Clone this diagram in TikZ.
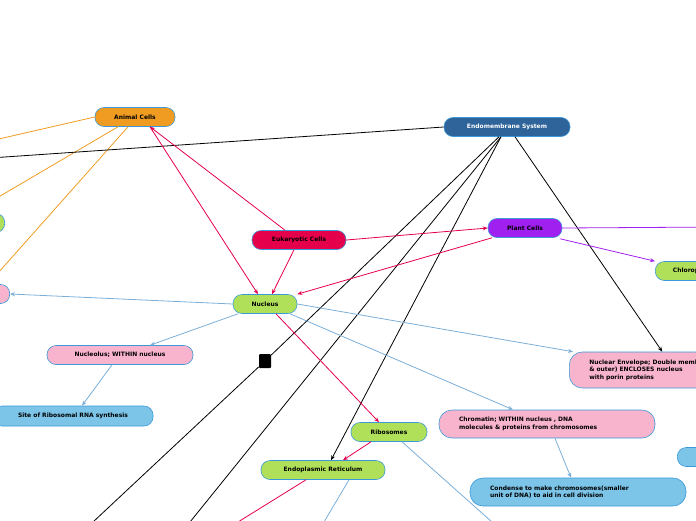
\documentclass[tikz,border=0pt]{standalone}
\usepackage{fontspec}
\setmainfont{DejaVu Sans}
\usetikzlibrary{arrows.meta}
\definecolor{bord}{HTML}{3A9AD9}
\definecolor{grn}{HTML}{B0E05A}
\definecolor{pnk}{HTML}{F8B4CC}
\definecolor{blu}{HTML}{7CC4E8}
\definecolor{org}{HTML}{F09C22}
\definecolor{red}{HTML}{E5004C}
\definecolor{prp}{HTML}{A020F0}
\definecolor{dblue}{HTML}{2E6499}
\definecolor{lblue}{HTML}{7BAFD8}
\begin{document}
\begin{tikzpicture}[x=1pt,y=-1pt,
 box/.style={draw=bord,line width=0.6pt,rounded corners=9pt,font=\bfseries\fontsize{6}{7.5}\selectfont,minimum height=19pt,inner sep=2pt,align=center},
 tbox/.style={box,align=left,rounded corners=13pt,inner xsep=20pt},
 a/.style={-{Stealth[length=5pt,width=4pt]},line width=0.8pt},
 n/.style={line width=0.8pt}]
\useasboundingbox (0,0) rectangle (696,520);
\clip (0,0) rectangle (696,520);
\node[box,fill=dblue,text=white,minimum width=126pt] (endo) at (507,127) {Endomembrane System};
\node[box,fill=org,minimum width=80pt] (animal) at (135,117) {Animal Cells};
\node[box,fill=red,minimum width=94pt] (euk) at (299,240) {Eukaryotic Cells};
\node[box,fill=prp,minimum width=74pt] (plant) at (525,228) {Plant Cells};
\node[box,fill=grn,minimum width=74pt,anchor=west] (chloro) at (655,271) {Chloroplast};
\node[box,fill=grn,minimum width=64pt] (nuc) at (265,304) {Nucleus};
\node[box,fill=pnk,minimum width=146pt] (nucl) at (120,355) {Nucleolus; WITHIN nucleus};
\node[box,fill=blu,minimum width=160pt,minimum height=20pt] (site) at (73,416) {Site of Ribosomal RNA synthesis};
\node[tbox,fill=pnk,minimum height=36pt,anchor=west,text width=150pt] (env) at (569,370) {Nuclear Envelope; Double membrane (inner\\ \& outer) ENCLOSES nucleus\\ with porin proteins};
\node[tbox,fill=pnk,minimum height=28pt,minimum width=216pt,text width=176pt] (chrom) at (547,424) {Chromatin; WITHIN nucleus , DNA\\ molecules \& proteins from chromosomes};
\node[tbox,fill=blu,minimum height=28pt,minimum width=216pt,text width=176pt] (cond) at (578,492) {Condense to make chromosomes(smaller\\ unit of DNA) to aid in cell division};
\node[box,fill=grn,minimum width=76pt] (ribo) at (389,432) {Ribosomes};
\node[box,fill=grn,minimum width=124pt] (er) at (323,470) {Endoplasmic Reticulum};
\node[box,fill=blu,minimum width=60pt,anchor=west] (nb) at (677,457) {N};
\node[box,fill=grn,minimum width=40pt,anchor=east] (lg) at (5,223) {};
\node[box,fill=pnk,minimum width=40pt,anchor=east] (lp) at (10,294) {};
\node[fill=black,minimum width=12pt,minimum height=14pt,inner sep=0pt,rounded corners=1pt] (sq) at (265,361) {};
\coordinate (o1) at (-10,141); \coordinate (o2) at (-10,202); \coordinate (o3) at (-10,282);
\coordinate (o4) at (-10,158); \coordinate (o5) at (720,227);
\coordinate (o6) at (190,522); \coordinate (o7) at (93,522);
\coordinate (o8) at (492,522); \coordinate (o9) at (238,522); \coordinate (o10) at (324,522);
% orange
\draw[n,org] (animal.west) -- (o1);
\draw[n,org] ([xshift=-17pt]animal.south) -- (o2);
\draw[n,org] ([xshift=-7pt]animal.south) -- (o3);
% black
\draw[n] (endo.west) -- (o4);
\draw[a] ([xshift=8pt]endo.south) -- ([xshift=-2pt]env.north);
\draw[a] ([xshift=-6pt]endo.south) -- ([xshift=8pt]er.north);
\draw[n] ([xshift=-6pt]endo.south) -- (o6);
\draw[n] ([xshift=-8pt]endo.south) -- (sq);
\draw[n] (sq) -- (o7);
% red
\draw[a,red] ([xshift=15pt]animal.south) -- ([xshift=-7pt]nuc.north);
\draw[a,red] ([xshift=-14pt]euk.north) -- ([xshift=15pt]animal.south);
\draw[a,red] ([xshift=-5pt]euk.south) -- ([xshift=7pt]nuc.north);
\draw[a,red] (euk.east) -- (plant.west);
\draw[a,red] ([xshift=-33pt]plant.south) -- (nuc.north east);
\draw[a,red] ([xshift=11pt]nuc.south) -- ([xshift=-10pt]ribo.north);
\draw[a,red] ([xshift=-18pt]ribo.south) -- ([xshift=20pt]er.north);
\draw[n,red] ([xshift=-17pt]er.south) -- (o9);
% purple
\draw[a,prp] (plant.east) -- (o5);
\draw[a,prp] ([xshift=-2pt,yshift=-1pt]plant.south east) -- (chloro.north west);
% blue
\draw[a,lblue] (nuc.west) -- (lp.east);
\draw[a,lblue] ([xshift=-27pt]nuc.south) -- ([xshift=30pt]nucl.north);
\draw[a,lblue] ([xshift=-8pt]nucl.south) -- ([xshift=9pt]site.north);
\draw[a,lblue] (nuc.east) -- ([xshift=4pt]env.north west);
\draw[a,lblue] ([xshift=25pt]nuc.south) -- ([xshift=-34pt]chrom.north);
\draw[a,lblue] ([xshift=8pt]chrom.south) -- ([xshift=-7pt]cond.north);
\draw[n,lblue] ([xshift=13pt]ribo.south) -- (o8);
\draw[n,lblue] ([xshift=26pt]er.south) -- (o10);
\end{tikzpicture}
\end{document}
